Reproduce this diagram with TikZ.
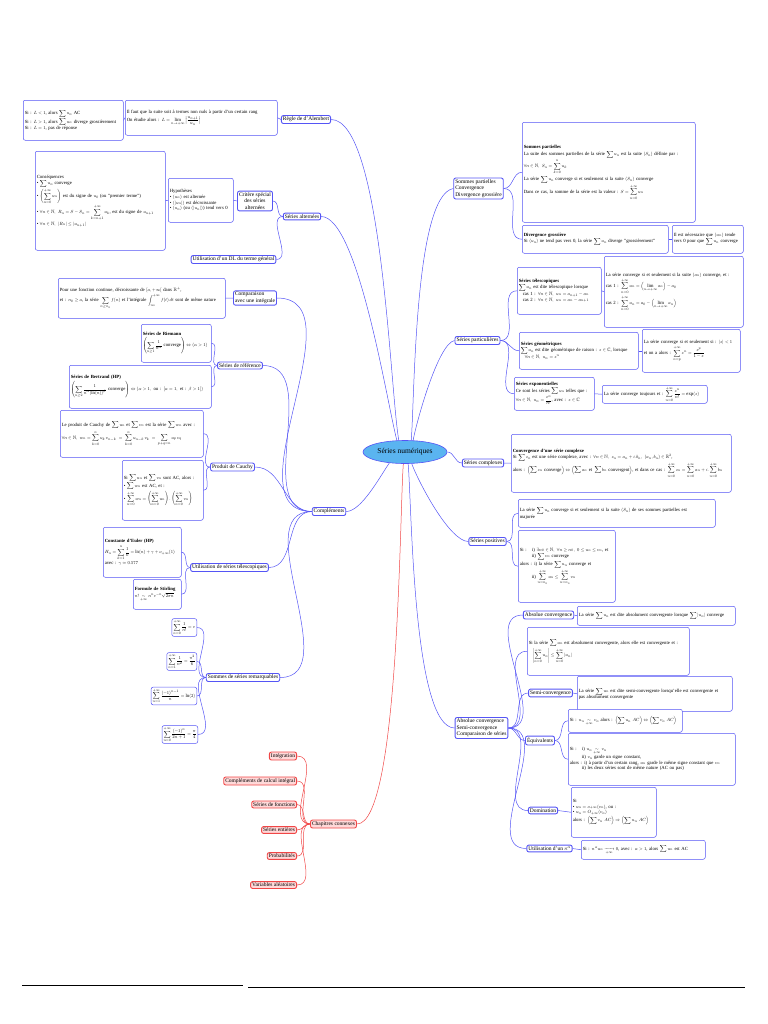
\documentclass[tikz,border=0pt]{standalone}
\usepackage{amsmath}
\usepackage{amssymb}
\usepackage{fontspec}
\setmainfont{Liberation Serif}
\usepackage{tikz}
\usetikzlibrary{shapes.geometric}
\definecolor{mmblue}{RGB}{85,85,245}
\definecolor{mmroot}{RGB}{90,180,240}
\definecolor{mmred}{RGB}{240,70,70}
\newcommand{\bsum}{\displaystyle\sum}
\hyphenpenalty=10000
\exhyphenpenalty=10000

\begin{document}
\begin{tikzpicture}[
    x=2pt, y=2pt,
    leaf/.style={draw=mmblue, fill=white, rounded corners=4pt, line width=1pt,
        inner sep=3pt, anchor=north west, align=left, font=\fontsize{9.5}{11.4}\selectfont},
    topic/.style={draw=mmblue, fill=white, rounded corners=4pt, line width=1.8pt,
        inner sep=3pt, align=left, font=\fontsize{11}{13}\selectfont},
    rtopic/.style={topic, draw=mmred, fill=red!15},
    rootnode/.style={ellipse, draw=mmblue, fill=mmroot, line width=1.2pt,
        minimum width=168pt, minimum height=46pt, inner sep=0pt, font=\fontsize{15}{18}\selectfont},
    link/.style={draw=mmblue, line width=1pt},
    rlink/.style={draw=mmred, line width=1pt},
]
\useasboundingbox (0,0) rectangle (768,-1024);

\node[rootnode] (root) at (405,-452) {Séries numériques};

% d'Alembert
\node[topic] (alemb) at (306,-119.5) {Règle de d'Alembert};
\node[leaf, text width=298pt, minimum height=70pt] (alembA) at (125,-100)
  {Il faut que la suite soit à termes non nuls à partir d'un certain rang\\[2pt]
   On étudie alors : $L=\lim\limits_{n\to+\infty}\left|\dfrac{u_{n+1}}{u_n}\right|$};
\node[leaf, text width=194pt, minimum height=80pt] (alembB) at (23,-100)
  {Si : $L<1$, alors $\bsum u_n$ AC\\
   Si : $L>1$, alors $\bsum u_n$ diverge grossièrement\\
   Si : $L=1$, pas de réponse};

% series alternees
\node[topic] (alt) at (302,-216.5) {Séries alternées};
\node[topic, align=center] (crit) at (255,-201) {Critère spécial\\des séries\\alternées};
\node[leaf, text width=124pt, minimum height=88pt] (hyp) at (168,-178)
  {Hypothèses\\
   \textbullet\ $(u_n)$ est alternée\\
   \textbullet\ $(|u_n|)$ est décroissante\\
   \textbullet\ $(u_n)$ (ou $(|u_n|)$) tend vers 0};
\node[leaf, text width=254pt, minimum height=198pt] (cons) at (35,-151)
  {Conséquences\\
   \textbullet\ $\bsum u_n$ converge\\[2pt]
   \textbullet\ $\left(\bsum_{n=0}^{+\infty}u_n\right)$ est du signe de $u_0$ (ou "premier terme")\\[2pt]
   \textbullet\ $\forall n\in\mathbb{N},\ R_n=S-S_n=\bsum_{k=n+1}^{+\infty}u_k$, est du signe de $u_{n+1}$\\[2pt]
   \textbullet\ $\forall n\in\mathbb{N},\ |R_n|\le|u_{n+1}|$};
\node[topic] (dl) at (233.5,-259.5) {Utilisation d'un DL du terme général};

% complements
\node[topic] (comp) at (329,-511.5) {Compléments};
\node[topic] (integ) at (255,-298) {Comparaison\\avec une intégrale};
\node[leaf, text width=328pt, minimum height=80pt] (integA) at (58,-278)
  {Pour une fonction continue, décroissante de $[a,+\infty[$ dans $\mathbb{R}^+$,\\[2pt]
   et : $n_0\ge a$, la série $\bsum_{n\ge n_0}f(n)$ et l'intégrale $\displaystyle\int_{n_0}^{+\infty}f(t)\,dt$ sont de même nature};
\node[topic] (ref) at (240,-365.5) {Séries de référence};
\node[leaf, text width=134pt, minimum height=76pt] (riem) at (141,-324)
  {\textbf{Séries de Riemann}\\[2pt]
   $\left(\bsum_{n\ge1}\dfrac{1}{n^\alpha}\text{ converge}\right)\Leftrightarrow(\alpha>1)$};
\node[leaf, text width=278pt, minimum height=86pt] (bert) at (69,-365)
  {\textbf{Séries de Bertrand (HP)}\\[2pt]
   $\left(\bsum_{n\ge2}\dfrac{1}{n^\alpha(\ln(n))^\beta}\text{ converge}\right)\Leftrightarrow(\alpha>1,\text{ ou : }[\alpha=1,\text{ et : }\beta>1])$};
\node[topic] (cauchy) at (232.5,-467) {Produit de Cauchy};
\node[leaf, text width=280pt, minimum height=94pt] (cauchyA) at (60,-410)
  {Le produit de Cauchy de $\bsum u_n$ et $\bsum v_n$ est la série $\bsum w_n$ avec :\\[4pt]
   $\forall n\in\mathbb{N},\ w_n=\bsum_{k=0}^{n}u_k\,v_{n-k}\;=\;\bsum_{k=0}^{n}u_{n-k}\,v_k\;=\;\bsum_{p+q=n}u_p\,v_q$};
\node[leaf, text width=156pt, minimum height=120pt] (cauchyB) at (122,-460)
  {Si $\bsum u_n$ et $\bsum v_n$ sont AC, alors :\\
   \textbullet\ $\bsum w_n$ est AC, et :\\[2pt]
   \textbullet\ $\bsum_{n=0}^{+\infty}w_n=\left(\bsum_{n=0}^{+\infty}u_n\right).\left(\bsum_{n=0}^{+\infty}v_n\right)$};
\node[topic] (tele) at (229.5,-567.5) {Utilisation de séries télescopiques};
\node[leaf, text width=150pt, minimum height=100pt] (euler) at (103,-527)
  {\textbf{Constante d'Euler (HP)}\\[4pt]
   $H_n=\bsum_{k=1}^{n}\dfrac{1}{k}=\ln(n)+\gamma+o_{+\infty}(1)$\\[2pt]
   avec : $\gamma\simeq0.577$};
\node[leaf, text width=90pt, minimum height=60pt] (stir) at (133,-579)
  {\textbf{Formule de Stirling}\\[2pt]
   $n!\underset{+\infty}{\sim}n^n e^{-n}\sqrt{2\pi n}$};
\node[topic] (rem) at (243,-677.5) {Sommes de séries remarquables};
\node[leaf, anchor=east] (sumA) at (197,-627.5) {$\bsum_{n=0}^{+\infty}\dfrac{1}{n!}=e$};
\node[leaf, anchor=east] (sumB) at (197,-661.5) {$\bsum_{n=1}^{+\infty}\dfrac{1}{n^2}=\dfrac{\pi^2}{6}$};
\node[leaf, anchor=east] (sumC) at (197,-696) {$\bsum_{n=1}^{+\infty}\dfrac{(-1)^{n-1}}{n}=\ln(2)$};
\node[leaf, anchor=east] (sumD) at (198,-734.5) {$\bsum_{n=0}^{+\infty}\dfrac{(-1)^{n}}{2n+1}=\dfrac{\pi}{4}$};

% chapitres connexes
\node[rtopic] (chap) at (333.5,-824) {Chapitres connexes};
\node[rtopic, anchor=east] (chA) at (297,-756) {Intégration};
\node[rtopic, anchor=east] (chB) at (297,-781) {Compléments de calcul intégral};
\node[rtopic, anchor=east] (chC) at (297,-804.5) {Séries de fonctions};
\node[rtopic, anchor=east] (chD) at (297,-830) {Séries entières};
\node[rtopic, anchor=east] (chE) at (297,-856) {Probabilités};
\node[rtopic, anchor=east] (chF) at (297,-885) {Variables aléatoires};

% sommes partielles
\node[topic] (sp) at (478.5,-188.5) {Sommes partielles\\Convergence\\Divergence grossière};
\node[leaf, text width=340pt, minimum height=200pt] (spA) at (522,-122)
  {\textbf{Sommes partielles}\\[2pt]
   La suite des sommes partielles de la série $\bsum u_n$ est la suite $(S_n)$ définie par :\\[2pt]
   $\forall n\in\mathbb{N},\ S_n=\bsum_{k=0}^{n}u_k$\\[2pt]
   La série $\bsum u_n$ converge si et seulement si la suite $(S_n)$ converge\\[2pt]
   Dans ce cas, la somme de la série est la valeur : $S=\bsum_{n=0}^{+\infty}u_n$};
\node[leaf, text width=286pt, minimum height=56pt] (spB) at (522,-225)
  {\textbf{Divergence grossière}\\
   Si $(u_n)$ ne tend pas vers 0, la série $\bsum u_n$ diverge "grossièrement"};
\node[leaf, text width=136pt, minimum height=56pt] (spC) at (672,-225)
  {Il est nécessaire que $(u_n)$ tende\\ vers 0 pour que $\bsum u_n$ converge};

% series particulieres
\node[topic] (part) at (477.5,-340.5) {Séries particulières};
\node[leaf, text width=162pt, minimum height=94pt] (telA) at (517,-267)
  {\textbf{Séries télescopiques}\\
   $\bsum u_n$ est dite télescopique lorsque\\
   \hspace*{8pt}cas 1 : $\forall n\in\mathbb{N},\ u_n=a_{n+1}-a_n$\\
   \hspace*{8pt}cas 2 : $\forall n\in\mathbb{N},\ u_n=a_n-a_{n+1}$};
\node[leaf, text width=272pt, minimum height=142pt] (telB) at (604,-256)
  {La série converge si et seulement si la suite $(a_n)$ converge, et :\\[2pt]
   cas 1 : $\bsum_{n=0}^{+\infty}u_n=\Bigl(\lim\limits_{n\to+\infty}a_n\Bigr)-a_0$\\[4pt]
   cas 2 : $\bsum_{n=0}^{+\infty}u_n=a_0-\Bigl(\lim\limits_{n\to+\infty}a_n\Bigr)$};
\node[leaf, text width=232pt, minimum height=74pt] (geoA) at (519,-332)
  {\textbf{Séries géométriques}\\
   $\bsum u_n$ est dite géométrique de raison : $z\in\mathbb{C}$, lorsque\\
   \hspace*{8pt}$\forall n\in\mathbb{N},\ u_n=z^n$};
\node[leaf, text width=190pt, minimum height=86pt] (geoB) at (642,-329)
  {La série converge si et seulement si : $|z|<1$\\[2pt]
   et on a alors : $\bsum_{n=p}^{+\infty}z^n=\dfrac{z^p}{1-z}$};
\node[leaf, text width=154pt, minimum height=66pt] (expA) at (514,-377)
  {\textbf{Séries exponentielles}\\
   Ce sont les séries $\bsum u_n$ telles que :\\
   $\forall n\in\mathbb{N},\ u_n=\dfrac{z^n}{n!}$, avec : $z\in\mathbb{C}$};
\node[leaf, text width=204pt, minimum height=36pt] (expB) at (602,-385)
  {La série converge toujours et : $\bsum_{n=0}^{+\infty}\dfrac{z^n}{n!}=\exp(z)$};

% series complexes
\node[topic] (cplx) at (483,-463) {Séries complexes};
\node[leaf, text width=434pt, minimum height=116pt] (cplxA) at (511,-434)
  {\textbf{Convergence d'une série complexe}\\
   Si $\bsum z_n$ est une série complexe, avec : $\forall n\in\mathbb{N},\ z_n=a_n+i.b_n,\ (a_n,b_n)\in\mathbb{R}^2$,\\[2pt]
   alors : $\left(\bsum z_n\text{ converge}\right)\Leftrightarrow\left(\bsum a_n\text{ et }\bsum b_n\text{ convergent}\right)$, et dans ce cas : $\bsum_{n=0}^{+\infty}z_n=\bsum_{n=0}^{+\infty}a_n+i.\bsum_{n=0}^{+\infty}b_n$};

% series positives
\node[topic] (pos) at (487.5,-541.5) {Séries positives};
\node[leaf, text width=388pt, minimum height=56pt] (posA) at (518,-499)
  {La série $\bsum u_n$ converge si et seulement si la suite $(S_n)$ de ses sommes partielles est\\ majorée};
\node[leaf, text width=188pt, minimum height=144pt] (posB) at (518,-530)
  {Si : \ \ i) $\exists n_0\in\mathbb{N},\ \forall n\ge n_0,\ 0\le u_n\le v_n$, et\\
   \hspace*{24pt}ii) $\bsum v_n$ converge\\
   alors : i) la série $\bsum u_n$ converge et\\[2pt]
   \hspace*{24pt}ii) $\bsum_{n=n_0}^{+\infty}u_n\le\bsum_{n=n_0}^{+\infty}v_n$};

% absolue convergence
\node[topic] (abs) at (481.5,-728) {Absolue convergence\\Semi-convergence\\Comparaison de séries};
\node[topic] (absT) at (548.5,-615) {Absolue convergence};
\node[leaf, text width=310pt, minimum height=38pt] (absA) at (577,-606)
  {La série $\bsum u_n$ est dite absolument convergente lorsque $\bsum|u_n|$ converge};
\node[leaf, text width=318pt, minimum height=96pt] (absB) at (527,-627)
  {Si la série $\bsum u_n$ est absolument convergente, alors elle est convergente et :\\[2pt]
   \hspace*{8pt}$\left|\bsum_{n=0}^{+\infty}u_n\right|\le\bsum_{n=0}^{+\infty}|u_n|$};
\node[topic] (semi) at (550.5,-693) {Semi-convergence};
\node[leaf, text width=304pt, minimum height=70pt] (semiA) at (577,-676)
  {La série $\bsum u_n$ est dite semi-convergente lorsqu'elle est convergente et\\ pas absolument convergente};
\node[topic] (equ) at (540,-740.5) {Équivalents};
\node[leaf, text width=222pt, minimum height=46pt] (equA) at (568,-709)
  {Si : $u_n\underset{+\infty}{\sim}v_n$ alors : $\left(\bsum u_n\ AC\right)\Leftrightarrow\left(\bsum v_n\ AC\right)$};
\node[leaf, text width=328pt, minimum height=104pt] (equB) at (568,-733)
  {Si : \ \ i) $u_n\underset{+\infty}{\sim}v_n$\\
   \hspace*{24pt}ii) $v_n$ garde un signe constant,\\
   alors : i) à partir d'un certain rang, $u_n$ garde le même signe constant que $v_n$\\
   \hspace*{24pt}ii) les deux séries sont de même nature (AC ou pas)};
\node[topic] (dom) at (543,-810.5) {Domination};
\node[leaf, text width=164pt, minimum height=100pt] (domA) at (571,-787)
  {Si\\
   \textbullet\ $u_n=o_{+\infty}(v_n)$, ou :\\
   \textbullet\ $u_n=O_{+\infty}(v_n)$\\[2pt]
   alors : $\left(\bsum v_n\ AC\right)\Rightarrow\left(\bsum u_n\ AC\right)$};
\node[topic] (nal) at (549.5,-848.5) {Utilisation d'un $n^\alpha$};
\node[leaf, text width=242pt, minimum height=38pt] (nalA) at (581,-840)
  {Si : $n^\alpha u_n\xrightarrow[+\infty]{}0$, avec : $\alpha>1$, alors $\bsum u_n$ est AC};

% links from the root
\draw[link] (alemb.east) to[out=0,in=100,looseness=0.4] (root.118);
\draw[link] (alt.east) to[out=0,in=105,looseness=0.4] (root.125);
\draw[link] (comp.east) to[out=0,in=235,looseness=0.6] (root.215);
\draw[rlink] (root.262) to[out=265,in=0,looseness=0.3] (chap.east);
\draw[link] (root.62) to[out=85,in=190,looseness=0.4] (sp.west);
\draw[link] (root.55) to[out=80,in=190,looseness=0.4] (part.west);
\draw[link] (root.east) to[out=0,in=180] (cplx.west);
\draw[link] (root.300) to[out=290,in=180,looseness=0.5] (pos.west);
\draw[link] (root.285) to[out=275,in=180,looseness=0.4] (abs.west);

% left links
\draw[link] (alemb.west) to[out=180,in=0] (alembA.east);
\draw[link] (alembA.west) -- (alembB.east);
\draw[link] (alt.west) to[out=180,in=0] (crit.east);
\draw[link] (alt.west) to[out=180,in=0] (dl.east);
\draw[link] (crit.west) to[out=180,in=0] (hyp.east);
\draw[link] (hyp.west) to[out=180,in=0] (cons.east);
\draw[link] (comp.west) to[out=180,in=0] (integ.east);
\draw[link] (comp.west) to[out=180,in=0] (ref.east);
\draw[link] (comp.west) to[out=180,in=0] (cauchy.east);
\draw[link] (comp.west) to[out=180,in=0] (tele.east);
\draw[link] (comp.west) to[out=180,in=0] (rem.east);
\draw[link] (integ.west) -- (integA.east);
\draw[link] (ref.west) to[out=180,in=0] (riem.east);
\draw[link] (ref.west) to[out=180,in=0] (bert.east);
\draw[link] (cauchy.west) to[out=180,in=0] (cauchyA.east);
\draw[link] (cauchy.west) to[out=180,in=0] (cauchyB.east);
\draw[link] (tele.west) to[out=180,in=0] (euler.east);
\draw[link] (tele.west) to[out=180,in=0] (stir.east);
\foreach \s in {sumA,sumB,sumC,sumD}
  \draw[link] (rem.west) to[out=180,in=0] (\s.east);
\foreach \c in {chA,chB,chC,chD,chE,chF}
  \draw[rlink] (chap.west) to[out=180,in=0] (\c.east);

% right links
\draw[link] (sp.east) to[out=0,in=180] (spA.west);
\draw[link] (sp.east) to[out=0,in=180] (spB.west);
\draw[link] (spB.east) -- (spC.west);
\draw[link] (part.east) to[out=0,in=180] (telA.west);
\draw[link] (part.east) to[out=0,in=180] (geoA.west);
\draw[link] (part.east) to[out=0,in=180] (expA.west);
\draw[link] (telA.east) to[out=0,in=180] (telB.west);
\draw[link] (geoA.east) to[out=0,in=180] (geoB.west);
\draw[link] (expA.east) to[out=0,in=180] (expB.west);
\draw[link] (cplx.east) -- (cplxA.west);
\draw[link] (pos.east) to[out=0,in=180] (posA.west);
\draw[link] (pos.east) to[out=0,in=180] (posB.west);
\draw[link] (abs.east) to[out=0,in=180] (absT.west);
\draw[link] (abs.east) to[out=0,in=180] (absB.west);
\draw[link] (abs.east) to[out=0,in=180] (semi.west);
\draw[link] (abs.east) to[out=0,in=180] (equ.west);
\draw[link] (abs.east) to[out=0,in=180] (dom.west);
\draw[link] (abs.east) to[out=0,in=180] (nal.west);
\draw[link] (absT.east) -- (absA.west);
\draw[link] (semi.east) -- (semiA.west);
\draw[link] (equ.east) to[out=0,in=180] (equA.west);
\draw[link] (equ.east) to[out=0,in=180] (equB.west);
\draw[link] (dom.east) -- (domA.west);
\draw[link] (nal.east) -- (nalA.west);

% footer rules
\draw[line width=1.6pt] (22,-985) -- (243,-985);
\draw[line width=1.2pt] (248,-987) -- (745,-987);
\end{tikzpicture}
\end{document}
